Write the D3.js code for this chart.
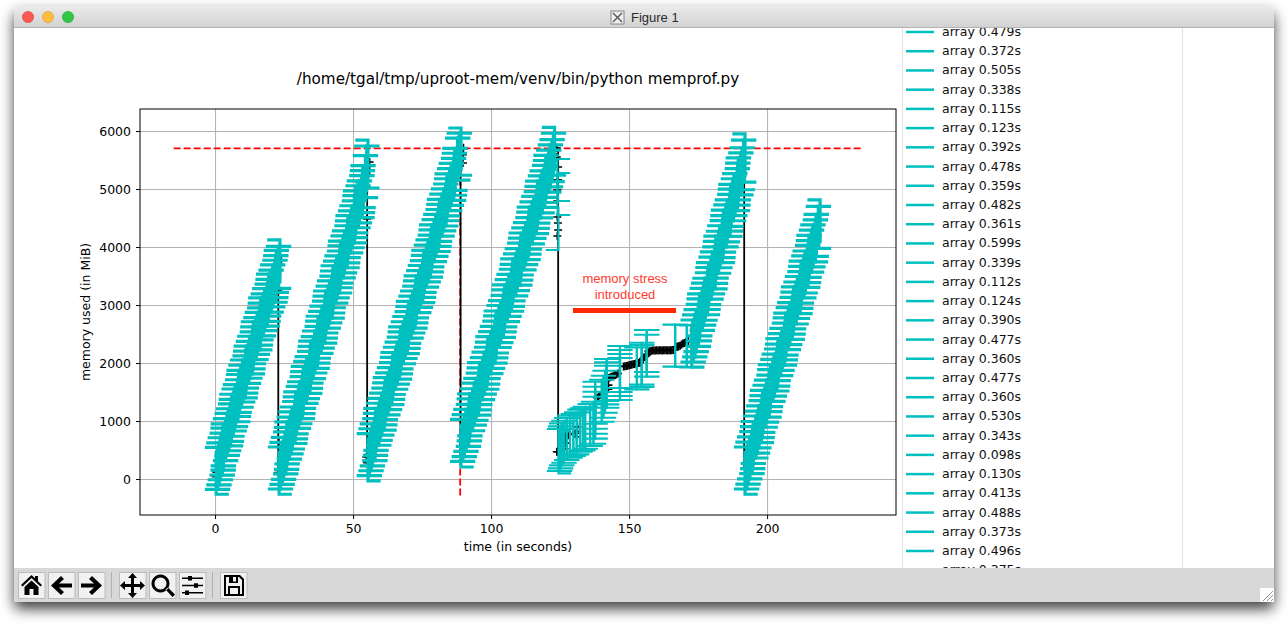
<!DOCTYPE html>
<html>
<head>
<meta charset="utf-8">
<title>Figure 1</title>
<script src="https://cdnjs.cloudflare.com/ajax/libs/d3/7.8.5/d3.min.js"></script>
<style>
html, body { margin: 0; padding: 0; background: #fff; overflow: hidden; }
svg { display: block; }
text { font-family: "DejaVu Sans", sans-serif; }
</style>
</head>
<body>
<svg id="fig" width="1288" height="624"></svg>
<script>
'use strict';

var xTickValues = [0, 50, 100, 150, 200];
var yTickValues = [0, 1000, 2000, 3000, 4000, 5000, 6000];

// one list of call boundaries per sawtooth: a call runs from point i to point i+1
var run1Times = [0.4,0.9,1.4,1.9,2.6,2.9,3.0,3.8,4.4,4.9,
    5.6,5.9,6.1,6.9,7.4,8.2,8.5,8.7,9.4,10.0,
    10.9,11.1,11.3,12.1,12.6,13.5,13.7,13.9,14.8,15.3,
    16.2,16.4,16.6,17.5,18.0,18.9,19.2,19.4,20.3,20.9,
    21.7,22.0,22.2,23.0,23.5];
var run1Mems = [100,185,260,350,430,515,590,680,770,850,
    935,1010,1100,1190,1265,1350,1440,1510,1600,1690,
    1760,1845,1930,2010,2100,2175,2260,2350,2420,2510,
    2590,2670,2760,2830,2920,3000,3080,3170,3240,3330,
    3410,3490,3580,3650,3760];

var run2Times = [23.2,23.7,24.3,24.8,25.6,25.9,26.1,26.9,27.5,28.0,
    28.9,29.1,29.3,30.2,30.7,31.6,31.8,32.0,32.9,33.4,
    34.3,34.5,34.7,35.6,36.1,37.0,37.2,37.4,38.3,38.8,
    39.7,39.9,40.1,41.0,41.5,42.4,42.6,42.8,43.7,44.2,
    45.1,45.3,45.5,46.4,46.9,47.8,48.0,48.2,49.1,49.6,
    50.5,50.7,50.9,51.8,52.3,53.2,53.4,53.6,54.5,55.0,
    55.4];
var run2Mems = [100,190,270,355,450,530,625,705,795,880,
    975,1055,1140,1235,1315,1405,1490,1580,1665,1750,
    1840,1925,2015,2095,2190,2270,2360,2445,2530,2620,
    2705,2790,2880,2965,3055,3135,3225,3315,3395,3485,
    3570,3660,3740,3830,3915,4005,4090,4180,4260,4350,
    4435,4525,4605,4695,4780,4870,4955,5040,5215,5380,
    5480];

var run3Times = [55.4,55.9,56.5,57.0,57.9,58.1,58.3,59.3,59.8,60.4,
    61.2,61.5,61.7,62.6,63.2,64.0,64.3,64.5,65.4,66.0,
    66.8,67.1,67.3,68.2,68.8,69.6,69.9,70.1,71.0,71.6,
    72.4,72.7,72.9,73.8,74.4,75.2,75.5,75.7,76.6,77.2,
    78.0,78.3,78.5,79.4,80.0,80.8,81.1,81.3,82.2,82.8,
    83.6,83.9,84.1,85.0,85.6,86.4,86.7,86.9,87.9,88.5,
    89.1];
var run3Mems = [330,420,505,590,680,770,855,945,1030,1120,
    1205,1295,1385,1470,1560,1645,1735,1820,1910,2000,
    2085,2175,2260,2350,2440,2525,2615,2700,2790,2880,
    2965,3055,3140,3230,3320,3405,3495,3580,3670,3760,
    3845,3935,4020,4110,4200,4285,4375,4460,4550,4640,
    4725,4815,4900,4990,5080,5165,5255,5340,5515,5600,
    5690];

var run4Times = [89.1,89.7,90.3,90.9,91.8,92.1,92.3,93.3,93.9,94.5,
    95.4,95.7,95.9,96.9,97.5,98.4,98.7,98.9,99.9,100.5,
    101.4,101.7,101.9,102.9,103.5,104.4,104.7,104.9,105.9,106.5,
    107.4,107.7,107.9,108.9,109.5,110.4,110.7,110.9,111.9,112.5,
    113.4,113.7,113.9,114.9,115.5,116.4,116.7,116.9,117.9,118.5,
    119.4,119.7,119.9,120.9,121.5,122.1,122.6,123.0];
var run4Mems = [570,665,750,840,925,1020,1105,1195,1290,1375,
    1465,1555,1645,1730,1825,1910,2000,2095,2180,2270,
    2360,2450,2535,2630,2715,2805,2900,2985,3075,3165,
    3255,3340,3435,3520,3610,3705,3790,3880,3970,4060,
    4145,4240,4325,4415,4510,4595,4685,4775,4865,4950,
    5045,5130,5220,5310,5400,5490,5600,5700];

// the slow part, once the memory stress starts: stairs, not a slope
var stressTimes = [124.4,124.8,125.2,125.6,126.4,127.4,128.6,129.8,131.0,132.2,
    133.2,134.1,135.9,137.1,137.7,137.7,137.7,137.7,140.1,140.7,
    141.3,141.9,141.9,141.9,146.7,146.7,146.7,146.7,152.8,154.6,
    154.6,156.4,156.4,166.7,170.9,172.7];
var stressMems = [460,500,546,598,644,690,730,759,788,834,
    857,885,931,971,1058,1144,1230,1316,1351,1420,
    1506,1592,1650,1707,1724,1793,1862,1931,1908,1948,
    1989,2127,2207,2300,2293,2288];

var run6Times = [172.7,173.2,173.8,174.3,175.1,175.4,175.6,176.5,177.0,177.5,
    178.4,178.6,178.8,179.7,180.2,181.1,181.3,181.5,182.4,182.9,
    183.8,184.0,184.2,185.1,185.6,186.5,186.7,186.9,187.8,188.3,
    189.2,189.4,189.6,190.5,191.0,191.5,192.0];
var run6Mems = [2290,2380,2470,2560,2650,2745,2830,2925,3015,3100,
    3195,3285,3370,3465,3555,3640,3735,3825,3910,4005,
    4095,4180,4275,4365,4450,4545,4635,4720,4815,4905,
    4990,5085,5175,5260,5350,5480,5590];

var run7Times = [192.0,192.6,193.1,193.7,194.5,194.8,195.0,195.9,196.5,197.0,
    197.9,198.2,198.4,199.3,199.8,200.7,201.0,201.2,202.1,202.6,
    203.5,203.8,204.0,204.9,205.4,206.3,206.6,206.8,207.7,208.2,
    209.1,209.4,209.6,210.5,211.0,211.9,212.2,212.4,213.3,213.8,
    214.7,215.0,215.2,216.1,216.6,217.5,217.8,218.6,219.2];
var run7Mems = [100,190,275,365,455,540,630,725,810,900,
    990,1075,1165,1255,1345,1430,1525,1610,1700,1790,
    1880,1965,2060,2145,2235,2325,2415,2500,2595,2680,
    2770,2860,2950,3035,3130,3215,3305,3395,3485,3570,
    3665,3750,3840,3930,4020,4105,4200,4340,4450];

// calls during the fall at the end of the fourth sawtooth
var tailLeftTimes = [124.0, 124.1];
var tailLeftMems = [5155, 4914];
var tailRightTimes = [124.4];
var tailRightMems = [4310];

// black drops between sawteeth
var dropTimes = [22.9, 55.1, 88.95, 124.3, 191.7];
var dropTops = [3900, 5700, 5700, 5700, 5700];
var dropBottoms = [100, 280, 500, 400, 150];

// black samples that show outside of the cyan
var sampleTimes = [24.0,22.9,56.0,56.0,55.1,90.0,89.8,89.8,
    123.8,123.8,124.3,124.3,123.9,124.0,124.0,124.0,124.2,124.3,124.0,
    0.3,0.5,22.9,23.1,54.8,55.1,123.8,
    124.2,125.0,126.6,126.8,126.8,126.8,128.0,130.5,131.0,131.2,131.3,
    138.5,139.0,139.5,142.5,142.5,
    142.5,143.0,143.5,144.0,144.5,145.0,145.5,146.0,
    148.0,148.5,149.0,149.5,150.0,150.5,151.0,151.5,152.0,152.5,153.0,153.5,154.0,
    154.5,155.0,155.5,156.0,156.5,
    157.0,157.5,158.0,158.5,159.0,159.5,160.0,160.5,161.0,161.5,162.0,162.5,
    163.0,163.5,164.0,164.5,165.0,165.5,166.0,166.5,
    167.0,167.5,168.0,168.5,169.0,169.5,170.0,170.5,171.0,171.5];
var sampleMems = [3776,3259,5465,5328,4483,5710,5590,5450,
    5707,5552,5379,5155,5155,4983,4793,4517,4414,4293,4190,
    40,120,110,620,380,280,470,
    470,480,520,620,700,760,770,790,730,820,900,
    1400,1420,1450,1550,1620,
    1740,1750,1765,1770,1785,1795,1805,1820,
    1940,1945,1950,1955,1962,1968,1975,1980,1985,1990,1995,2000,2005,
    2050,2075,2100,2120,2140,
    2205,2210,2210,2215,2215,2215,2220,2215,2220,2220,2215,2220,
    2220,2220,2215,2220,2220,2220,2225,2225,
    2280,2285,2290,2300,2320,2335,2345,2360,2370,2380];

var legendLabels = ['array 0.479s','array 0.372s','array 0.505s','array 0.338s','array 0.115s',
    'array 0.123s','array 0.392s','array 0.478s','array 0.359s','array 0.482s',
    'array 0.361s','array 0.599s','array 0.339s','array 0.112s','array 0.124s',
    'array 0.390s','array 0.477s','array 0.360s','array 0.477s','array 0.360s',
    'array 0.530s','array 0.343s','array 0.098s','array 0.130s','array 0.413s',
    'array 0.488s','array 0.373s','array 0.496s','array 0.375s'];

var limitTimes = [-15, 234];
var limitMem = 5700;
var crashTime = 88.8;
var crashMems = [5700, -300];

var CYAN = '#00bfbf';
var plot = {left: 140, right: 896, top: 109, bottom: 515};

var svg = d3.select('#fig');
var defs = svg.append('defs');

var shadow = defs.append('filter').attr('id', 'winshadow')
    .attr('x', '-5%').attr('y', '-10%').attr('width', '110%').attr('height', '120%');
shadow.append('feDropShadow').attr('dx', 0).attr('dy', 7).attr('stdDeviation', 7)
    .attr('flood-color', '#000').attr('flood-opacity', 0.75);

var titleGrad = defs.append('linearGradient').attr('id', 'titlebar')
    .attr('x1', 0).attr('y1', 0).attr('x2', 0).attr('y2', 1);
titleGrad.append('stop').attr('offset', '0%').attr('stop-color', '#ebebeb');
titleGrad.append('stop').attr('offset', '100%').attr('stop-color', '#d2d2d2');

defs.append('clipPath').attr('id', 'plotclip').append('rect')
    .attr('x', plot.left).attr('y', plot.top)
    .attr('width', plot.right - plot.left).attr('height', plot.bottom - plot.top);
defs.append('clipPath').attr('id', 'legendclip').append('rect')
    .attr('x', 903).attr('y', 28).attr('width', 279).attr('height', 540);

// window
svg.append('rect').attr('x', 14).attr('y', 6).attr('width', 1260).attr('height', 596)
    .attr('rx', 5).attr('fill', '#fff').attr('filter', 'url(#winshadow)');
svg.append('path').attr('d', 'M14,27V11a5,5 0 0 1 5,-5H1269a5,5 0 0 1 5,5V27Z')
    .attr('fill', 'url(#titlebar)');
svg.append('line').attr('x1', 14).attr('x2', 1274).attr('y1', 27.5).attr('y2', 27.5)
    .attr('stroke', '#b4b4b4');

svg.selectAll('circle.light')
    .data([[28, '#fc5753', '#df4744'], [48, '#fdbc40', '#de9f34'], [68, '#33c748', '#27aa35']])
    .enter().append('circle').attr('class', 'light')
    .attr('cx', function(d) { return d[0]; }).attr('cy', 17).attr('r', 5.6)
    .attr('fill', function(d) { return d[1]; })
    .attr('stroke', function(d) { return d[2]; }).attr('stroke-width', 0.7);

svg.append('rect').attr('x', 611).attr('y', 11).attr('width', 13).attr('height', 13)
    .attr('fill', '#eee').attr('stroke', '#888');
svg.append('path').attr('d', 'M613,13L622,22M622,13L613,22')
    .attr('stroke', '#555').attr('stroke-width', 1.4);
svg.append('text').attr('x', 631).attr('y', 22).attr('font-size', 13)
    .style('font-family', '"Liberation Sans", sans-serif').attr('fill', '#2b2b2b').text('Figure 1');

// scales
var x = d3.scaleLinear().domain([-27.2, 246.7]).range([plot.left, plot.right]);
var y = d3.scaleLinear().domain([-620, 6380]).range([plot.bottom, plot.top]);

// axes, with the grid drawn by a second pair of axes
svg.append('g').attr('transform', 'translate(0,' + plot.bottom + ')')
    .call(d3.axisBottom(x).tickValues(xTickValues).tickSize(-(plot.bottom - plot.top)).tickFormat(''))
    .call(function(g) { g.select('.domain').remove(); })
    .selectAll('line').attr('stroke', '#b0b0b0').attr('stroke-width', 1);
svg.append('g').attr('transform', 'translate(' + plot.left + ',0)')
    .call(d3.axisLeft(y).tickValues(yTickValues).tickSize(-(plot.right - plot.left)).tickFormat(''))
    .call(function(g) { g.select('.domain').remove(); })
    .selectAll('line').attr('stroke', '#b0b0b0').attr('stroke-width', 1);

var marks = svg.append('g').attr('clip-path', 'url(#plotclip)');

var line = d3.line();

marks.append('path')
    .attr('d', line([[x(limitTimes[0]), y(limitMem)], [x(limitTimes[1]), y(limitMem)]]))
    .attr('fill', 'none').attr('stroke', '#ff0000').attr('stroke-width', 1.8)
    .attr('stroke-dasharray', '7,3');
marks.append('path')
    .attr('d', line([[x(crashTime), y(crashMems[0])], [x(crashTime), y(crashMems[1])]]))
    .attr('fill', 'none').attr('stroke', '#ff0000').attr('stroke-width', 1.8)
    .attr('stroke-dasharray', '7,3');

// black memory trace
dropTimes.forEach(function(t, i) {
    marks.append('path')
        .attr('d', line([[x(t), y(dropTops[i])], [x(t), y(dropBottoms[i])]]))
        .attr('fill', 'none').attr('stroke', '#000').attr('stroke-width', 1.8);
});
marks.selectAll('path.sample')
    .data(sampleTimes)
    .enter().append('path').attr('class', 'sample')
    .attr('d', function(t, i) {
        var px = x(t), py = y(sampleMems[i]);
        return 'M' + (px - 4) + ',' + py + 'H' + (px + 4) + 'M' + px + ',' + (py - 4) + 'V' + (py + 4);
    })
    .attr('stroke', '#000').attr('stroke-width', 1.6).attr('fill', 'none');

// brackets: the opening call end faces right, the closing one faces left
var capWidth = 4.6;   // seconds
var capHeight = 362;  // MiB
function bracket(t, mem, dir) {
    var tip = x(t + dir * capWidth), px = x(t);
    var top = y(mem + capHeight), bottom = y(mem - capHeight);
    return line([[tip, top], [px, top], [px, bottom], [tip, bottom]]);
}
function drawBracket(t, mem, dir, width) {
    marks.append('path').attr('d', bracket(t, mem, dir))
        .attr('fill', 'none').attr('stroke', CYAN).attr('stroke-width', width);
}
function drawRun(times, mems, width) {
    times.forEach(function(t, i) {
        if (i < times.length - 1) { drawBracket(t, mems[i], 1, width); }
        if (i > 0) { drawBracket(t, mems[i], -1, width); }
    });
}
// rows of the fast runs sit so close that they read thicker than the stress ones
drawRun(run1Times, run1Mems, 3.2);
drawRun(run2Times, run2Mems, 3.2);
drawRun(run3Times, run3Mems, 3.2);
drawRun(run4Times, run4Mems, 3.2);
drawRun(stressTimes, stressMems, 2.1);
drawRun(run6Times, run6Mems, 3.2);
drawRun(run7Times, run7Mems, 3.2);
tailLeftTimes.forEach(function(t, i) { drawBracket(t, tailLeftMems[i], 1, 2.1); });
tailRightTimes.forEach(function(t, i) { drawBracket(t, tailRightMems[i], -1, 2.1); });

// ticks and labels
var xAxis = svg.append('g').attr('transform', 'translate(0,' + plot.bottom + ')')
    .call(d3.axisBottom(x).tickValues(xTickValues).tickSize(4).tickPadding(5).tickSizeOuter(0));
var yAxis = svg.append('g').attr('transform', 'translate(' + plot.left + ',0)')
    .call(d3.axisLeft(y).tickValues(yTickValues).tickFormat(d3.format('d')).tickSize(4).tickPadding(5).tickSizeOuter(0));
[xAxis, yAxis].forEach(function(g) {
    g.select('.domain').remove();
    g.selectAll('text').attr('font-size', 12.5).style('font-family', '"DejaVu Sans", sans-serif').attr('fill', '#000');
});
svg.append('rect').attr('x', plot.left).attr('y', plot.top)
    .attr('width', plot.right - plot.left).attr('height', plot.bottom - plot.top)
    .attr('fill', 'none').attr('stroke', '#000').attr('stroke-width', 1);

svg.append('text').attr('x', 518).attr('y', 84).attr('text-anchor', 'middle')
    .attr('font-size', 15.2).text('/home/tgal/tmp/uproot-mem/venv/bin/python memprof.py');
svg.append('text').attr('x', 518).attr('y', 551).attr('text-anchor', 'middle')
    .attr('font-size', 12.5).text('time (in seconds)');
svg.append('text').attr('transform', 'translate(90,312) rotate(-90)').attr('text-anchor', 'middle')
    .attr('font-size', 12.5).text('memory used (in MiB)');

// hand made note on top of the plot
svg.append('rect').attr('x', 573).attr('y', 308).attr('width', 103).attr('height', 5).attr('fill', '#ff2600');
svg.selectAll('text.note').data(['memory stress', 'introduced'])
    .enter().append('text').attr('class', 'note')
    .attr('x', 625).attr('y', function(d, i) { return 283 + i * 15.5; })
    .attr('text-anchor', 'middle').attr('font-size', 13).attr('fill', '#ff3b30')
    .style('font-family', '"Liberation Sans", sans-serif').text(function(d) { return d; });

// legend panel
svg.append('line').attr('x1', 902.5).attr('x2', 902.5).attr('y1', 28).attr('y2', 568).attr('stroke', '#e2e2e2');
svg.append('line').attr('x1', 1182.5).attr('x2', 1182.5).attr('y1', 28).attr('y2', 568).attr('stroke', '#e2e2e2');
var legend = svg.append('g').attr('clip-path', 'url(#legendclip)');
var rowY = d3.scaleLinear().domain([0, 27]).range([32, 551]);
var rows = legend.selectAll('g.row').data(legendLabels).enter().append('g').attr('class', 'row')
    .attr('transform', function(d, i) { return 'translate(0,' + rowY(i) + ')'; });
rows.append('line').attr('x1', 906).attr('x2', 934).attr('y1', 0).attr('y2', 0)
    .attr('stroke', CYAN).attr('stroke-width', 2.5);
rows.append('text').attr('x', 942).attr('y', 4).attr('font-size', 12.5).attr('fill', '#111')
    .text(function(d) { return d; });

// toolbar
svg.append('rect').attr('x', 14).attr('y', 568).attr('width', 1260).attr('height', 34).attr('fill', '#d8d8d8');
var icons = [
    {x: 18, d: 'M3,13L13.5,3L17,6.3V4H20V9.2L24,13L22.5,14.5L13.5,6L4.5,14.5ZM6.5,15L13.5,8.4L20.5,15V23H15.5V17H11.5V23H6.5Z'},
    {x: 48, d: 'M3,13.5L13,4L16,7L11,11.5H24V15.5H11L16,20L13,23Z'},
    {x: 78, d: 'M24,13.5L14,4L11,7L16,11.5H3V15.5H16L11,20L14,23Z'},
    {x: 119, d: 'M13.5,1L18,6H15V12H21V9L26,13.5L21,18V15H15V21H18L13.5,26L9,21H12V15H6V18L1,13.5L6,9V12H12V6H9Z'},
    {x: 149, d: 'M11.5,2.5A9,9 0 1 1 11.49,2.5ZM11.5,5.5A6,6 0 1 0 11.51,5.5ZM16.5,17.5L19,15.5L26,22.5L23.5,25Z'},
    {x: 179, d: 'M3,5.5H9V4H13V5.5H24V7H13V8.5H9V7H3ZM3,12.7H15V11.2H19V12.7H24V14.2H19V15.7H15V14.2H3ZM3,20H6V18.5H10V20H24V21.5H10V23H6V21.5H3Z'},
    {x: 220, d: 'M4,3H20L24,7V24H4ZM6,5V22H8V14H20V22H22V8L19,5H18V11H9V5ZM10,16V22H18V16ZM13,5V9.5H16V5Z'}
];
var buttons = svg.selectAll('g.tool').data(icons).enter().append('g').attr('class', 'tool')
    .attr('transform', function(d) { return 'translate(' + d.x + ',572)'; });
buttons.append('rect').attr('x', 0.5).attr('y', 0.5).attr('width', 26.5).attr('height', 26)
    .attr('fill', '#f1f1f1').attr('stroke', '#bbb');
buttons.append('path').attr('d', function(d) { return d.d; }).attr('fill', '#000').attr('fill-rule', 'evenodd');
[111.5, 212.5].forEach(function(sx) {
    svg.append('line').attr('x1', sx).attr('x2', sx).attr('y1', 572).attr('y2', 598).attr('stroke', '#b0b0b0');
});

// resize grip
svg.append('rect').attr('x', 1260).attr('y', 588).attr('width', 14).attr('height', 14).attr('fill', '#fff');
svg.append('path').attr('d', 'M1263,601L1273,591M1267,601L1273,595M1271,601L1273,599')
    .attr('stroke', '#999').attr('stroke-width', 1).attr('fill', 'none');
</script>
</body>
</html>
